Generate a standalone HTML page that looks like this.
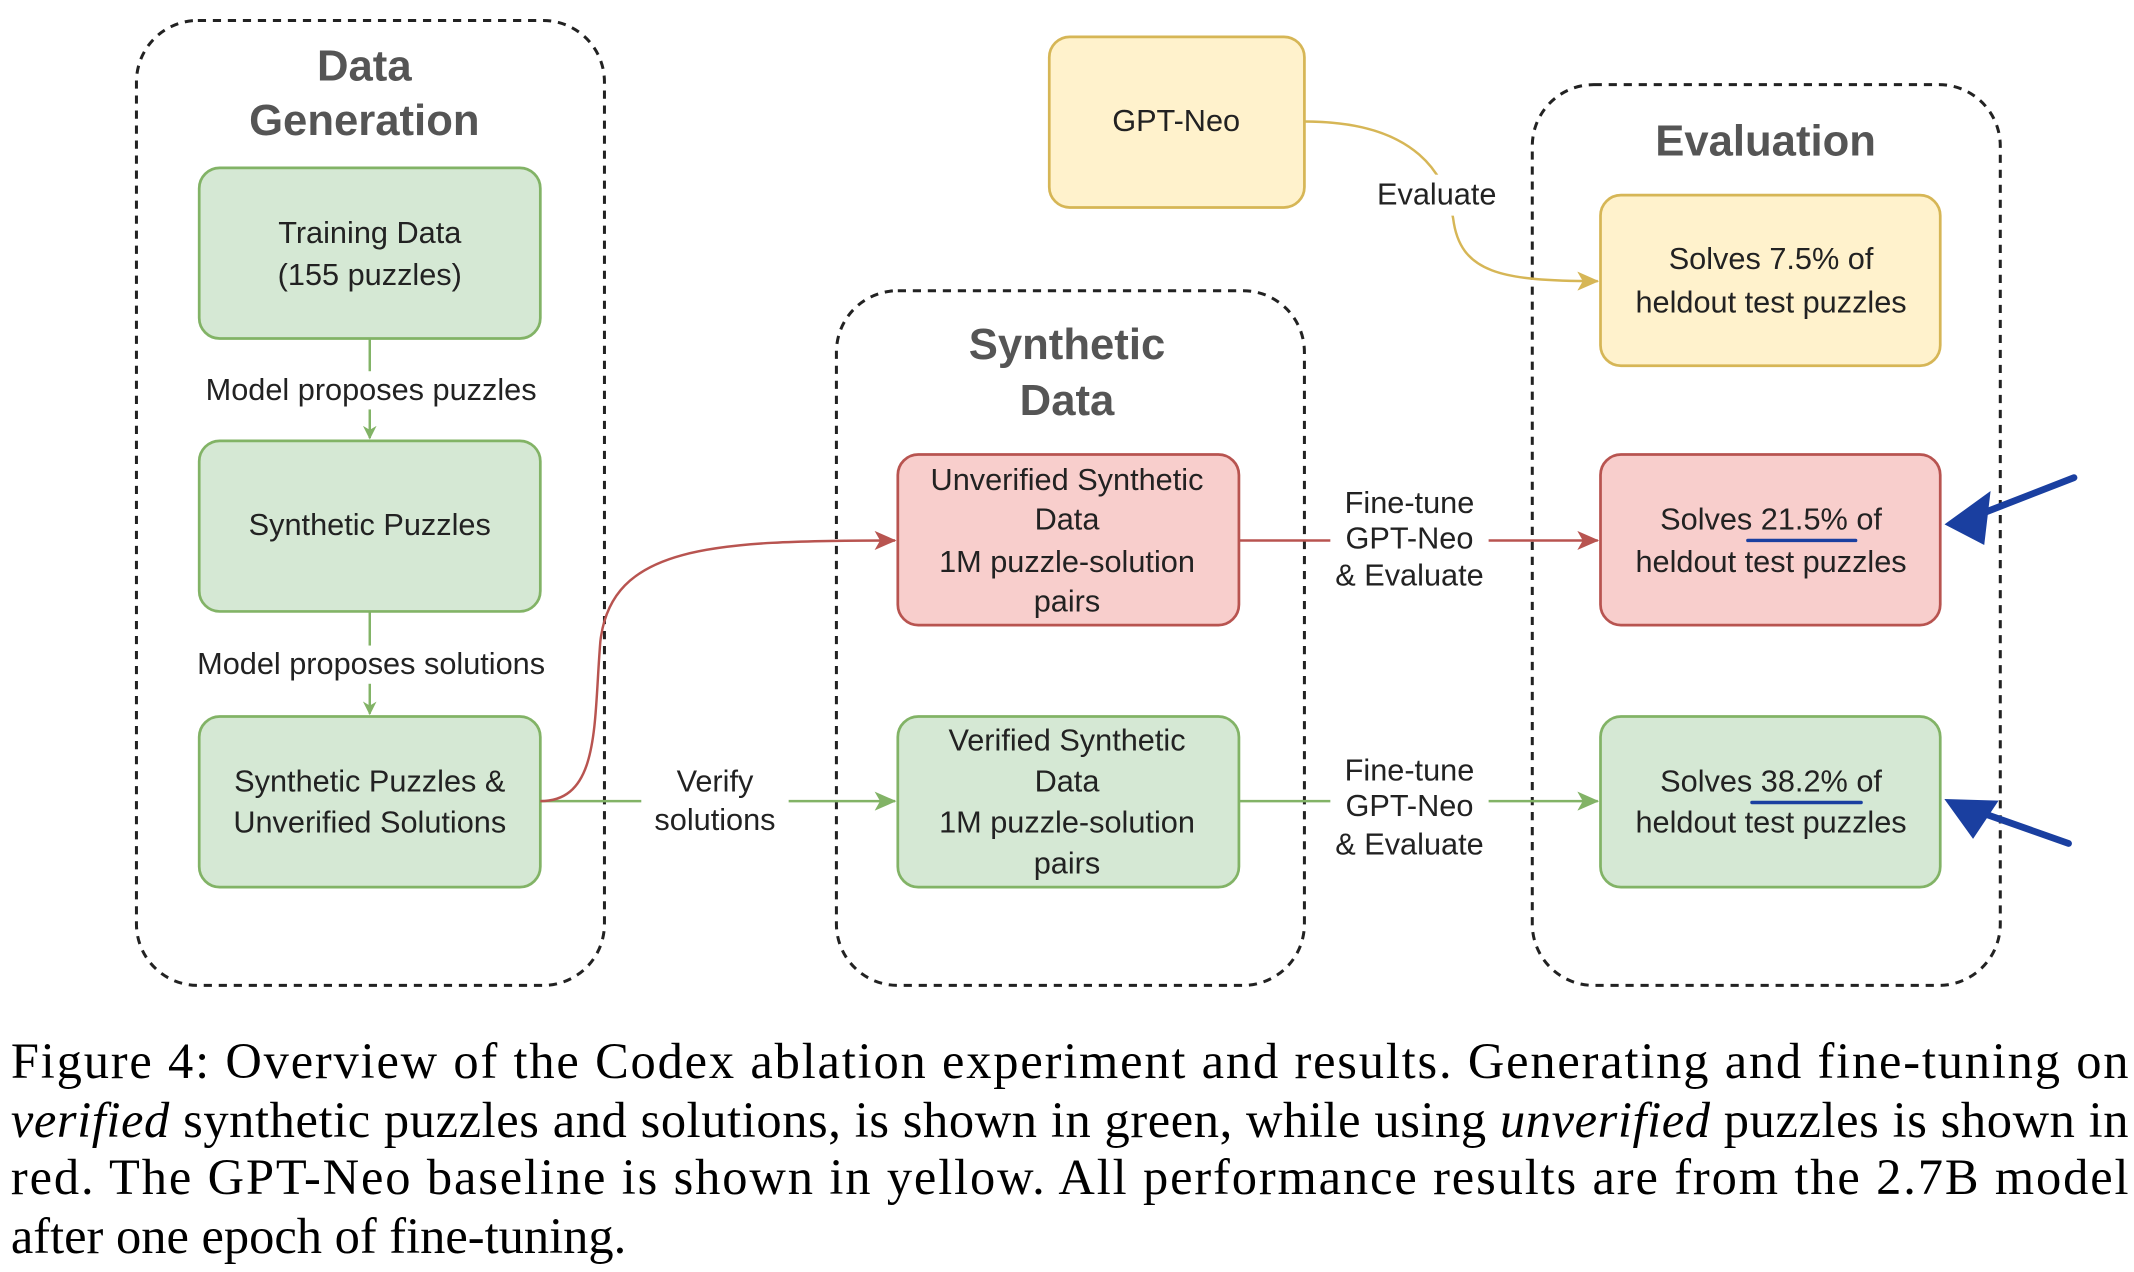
<!DOCTYPE html>
<html><head><meta charset="utf-8"><style>
html,body{margin:0;padding:0;background:#fff;}
svg{display:block;}
.t{font-family:"Liberation Sans",sans-serif;fill:#222;font-size:22.5px;text-anchor:middle;}
.h{font-family:"Liberation Sans",sans-serif;fill:#555;font-size:32px;font-weight:bold;text-anchor:middle;}
.c{font-family:"Liberation Serif",serif;fill:#000;font-size:37px;}
</style></head><body>
<svg width="2134" height="1272" viewBox="0 0 1564 932" preserveAspectRatio="none" xmlns="http://www.w3.org/2000/svg">
<defs>
<marker id="ag" markerWidth="10" markerHeight="10" refX="9" refY="5" orient="auto" markerUnits="userSpaceOnUse"><path d="M0,0 L10,5 L0,10 L3,5z" fill="#82b366"/></marker>
<marker id="ar" markerWidth="16" markerHeight="14" refX="15" refY="7" orient="auto" markerUnits="userSpaceOnUse"><path d="M0,0 L16,7 L0,14 L4,7z" fill="#b85450"/></marker>
<marker id="ag2" markerWidth="16" markerHeight="14" refX="15" refY="7" orient="auto" markerUnits="userSpaceOnUse"><path d="M0,0 L16,7 L0,14 L4,7z" fill="#82b366"/></marker>
<marker id="ay" markerWidth="16" markerHeight="14" refX="15" refY="7" orient="auto" markerUnits="userSpaceOnUse"><path d="M0,0 L16,7 L0,14 L4,7z" fill="#d6b656"/></marker>
</defs>
<g fill="none" stroke="#222" stroke-width="2.2" stroke-dasharray="6,5">
<rect x="100" y="15" width="343" height="707" rx="45"/>
<rect x="613" y="213" width="343" height="509" rx="45"/>
<rect x="1123" y="62" width="343" height="660" rx="45"/>
</g>
<text class="h" x="267" y="59">Data</text>
<text class="h" x="267" y="99">Generation</text>
<text class="h" x="782" y="263">Synthetic</text>
<text class="h" x="782" y="304">Data</text>
<text class="h" x="1294" y="114">Evaluation</text>
<g stroke-width="2">
<rect x="146" y="123" width="250" height="125" rx="15" fill="#d5e8d4" stroke="#82b366"/>
<rect x="146" y="323" width="250" height="125" rx="15" fill="#d5e8d4" stroke="#82b366"/>
<rect x="146" y="525" width="250" height="125" rx="15" fill="#d5e8d4" stroke="#82b366"/>
<rect x="658" y="333" width="250" height="125" rx="15" fill="#f8cecc" stroke="#b85450"/>
<rect x="658" y="525" width="250" height="125" rx="15" fill="#d5e8d4" stroke="#82b366"/>
<rect x="769" y="27" width="187" height="125" rx="15" fill="#fff2cc" stroke="#d6b656"/>
<rect x="1173" y="143" width="249" height="125" rx="15" fill="#fff2cc" stroke="#d6b656"/>
<rect x="1173" y="333" width="249" height="125" rx="15" fill="#f8cecc" stroke="#b85450"/>
<rect x="1173" y="525" width="249" height="125" rx="15" fill="#d5e8d4" stroke="#82b366"/>
</g>
<g fill="none" stroke-width="1.8">
<path d="M271,248 V321" stroke="#82b366" marker-end="url(#ag)"/>
<path d="M271,448 V523" stroke="#82b366" marker-end="url(#ag)"/>
<path d="M396,587 H656" stroke="#82b366" marker-end="url(#ag2)"/>
<path d="M908,587 H1171" stroke="#82b366" marker-end="url(#ag2)"/>
<path d="M908,396 H1171" stroke="#b85450" marker-end="url(#ar)"/>
<path d="M396,587 C440,587 435,530 440,470 C448,400 520,396 656,396" stroke="#b85450" marker-end="url(#ar)"/>
<path d="M956,89 C1040,89 1060,130 1065,160 C1070,200 1100,206 1171,206" stroke="#d6b656" marker-end="url(#ay)"/>
</g>
<g fill="#fff">
<rect x="140" y="272" width="265" height="28"/>
<rect x="135" y="473" width="275" height="28"/>
<rect x="470" y="558" width="108" height="56"/>
<rect x="975" y="355" width="116" height="80"/>
<rect x="975" y="550" width="116" height="82"/>
<rect x="1005" y="128" width="96" height="30"/>
</g>
<text class="t" x="271" y="178">Training Data</text>
<text class="t" x="271" y="209">(155 puzzles)</text>
<text class="t" x="272" y="293">Model proposes puzzles</text>
<text class="t" x="271" y="392">Synthetic Puzzles</text>
<text class="t" x="272" y="494">Model proposes solutions</text>
<text class="t" x="271" y="580">Synthetic Puzzles &amp;</text>
<text class="t" x="271" y="610">Unverified Solutions</text>
<text class="t" x="524" y="580">Verify</text>
<text class="t" x="524" y="608">solutions</text>
<text class="t" x="782" y="359">Unverified Synthetic</text>
<text class="t" x="782" y="388">Data</text>
<text class="t" x="782" y="419">1M puzzle-solution</text>
<text class="t" x="782" y="448">pairs</text>
<text class="t" x="782" y="550">Verified Synthetic</text>
<text class="t" x="782" y="580">Data</text>
<text class="t" x="782" y="610">1M puzzle-solution</text>
<text class="t" x="782" y="640">pairs</text>
<text class="t" x="862" y="96">GPT-Neo</text>
<text class="t" x="1053" y="150">Evaluate</text>
<text class="t" x="1033" y="376">Fine-tune</text>
<text class="t" x="1033" y="402">GPT-Neo</text>
<text class="t" x="1033" y="429">&amp; Evaluate</text>
<text class="t" x="1033" y="572">Fine-tune</text>
<text class="t" x="1033" y="598">GPT-Neo</text>
<text class="t" x="1033" y="626">&amp; Evaluate</text>
<text class="t" x="1298" y="197">Solves 7.5% of</text>
<text class="t" x="1298" y="229">heldout test puzzles</text>
<text class="t" x="1298" y="388">Solves 21.5% of</text>
<text class="t" x="1298" y="419">heldout test puzzles</text>
<text class="t" x="1298" y="580">Solves 38.2% of</text>
<text class="t" x="1298" y="610">heldout test puzzles</text>
<g stroke="#1a3fa0" fill="#1a3fa0" stroke-linecap="round">
<path d="M1281,396 H1360" stroke-width="2.5" fill="none"/>
<path d="M1284,588 H1364" stroke-width="2.5" fill="none"/>
<path d="M1520,350 L1448,378" stroke-width="5" fill="none"/>
<path d="M1428,384 L1457,363 L1453,397z" stroke-width="3"/>
<path d="M1516,618 L1448,594" stroke-width="5" fill="none"/>
<path d="M1428,587 L1462,588 L1446,612z" stroke-width="3"/>
</g>
<text class="c" x="8" y="790" textLength="1552" lengthAdjust="spacing">Figure 4: Overview of the Codex ablation experiment and results. Generating and fine-tuning on</text>
<text class="c" x="8" y="833" textLength="1552" lengthAdjust="spacing"><tspan font-style="italic">verified</tspan> synthetic puzzles and solutions, is shown in green, while using <tspan font-style="italic">unverified</tspan> puzzles is shown in</text>
<text class="c" x="8" y="875" textLength="1552" lengthAdjust="spacing">red. The GPT-Neo baseline is shown in yellow. All performance results are from the 2.7B model</text>
<text class="c" x="8" y="918">after one epoch of fine-tuning.</text>
</svg>
</body></html>
